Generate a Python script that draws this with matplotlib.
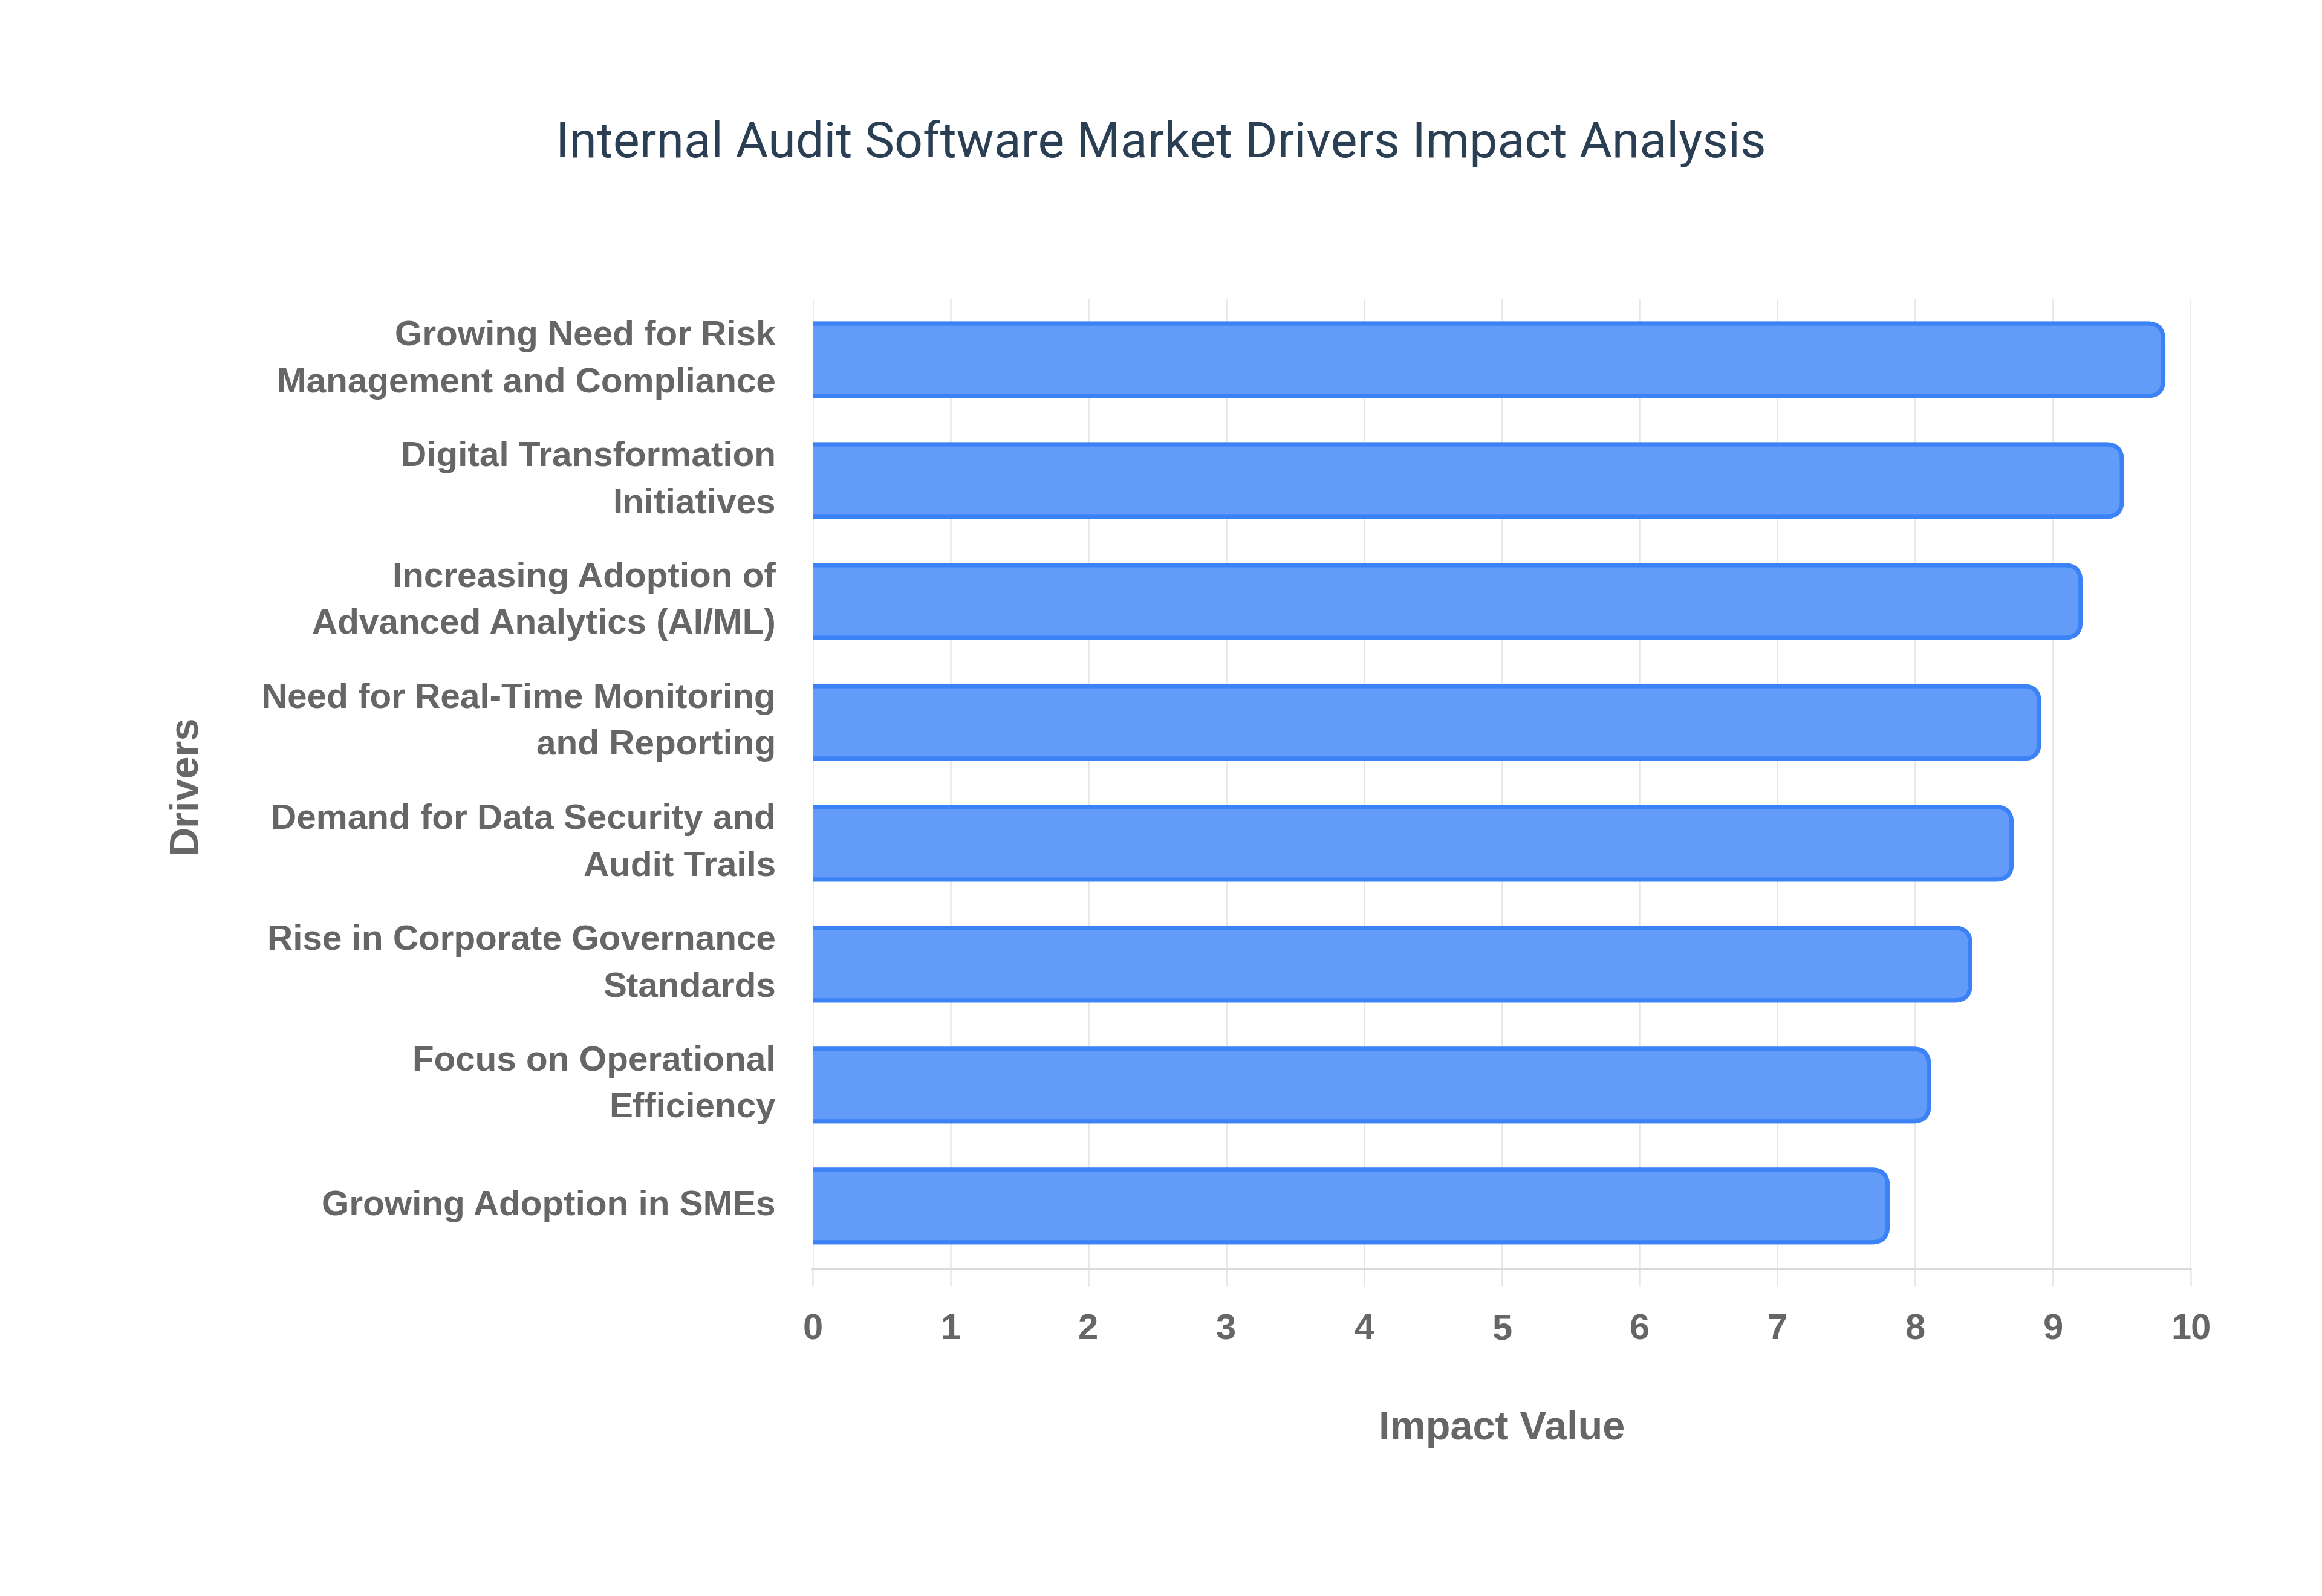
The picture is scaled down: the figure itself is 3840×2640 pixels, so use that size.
import matplotlib
matplotlib.use("Agg")
import matplotlib.pyplot as plt
from matplotlib.patches import FancyBboxPatch

# data (top to bottom)
drivers = [
    "Growing Need for Risk\nManagement and Compliance",
    "Digital Transformation\nInitiatives",
    "Increasing Adoption of\nAdvanced Analytics (AI/ML)",
    "Need for Real-Time Monitoring\nand Reporting",
    "Demand for Data Security and\nAudit Trails",
    "Rise in Corporate Governance\nStandards",
    "Focus on Operational\nEfficiency",
    "Growing Adoption in SMEs",
]
impact = [9.8, 9.5, 9.2, 8.9, 8.7, 8.4, 8.1, 7.8]
xticks = [0, 1, 2, 3, 4, 5, 6, 7, 8, 9, 10]

fill_col = "#629bf8"
edge_col = "#3b82f6"
label_col = "#666666"
grid_col = "#e6e6e6"
lab_font = ["Liberation Sans", "DejaVu Sans"]

fig = plt.figure(figsize=(19.2, 13.2), dpi=200)
fig.patch.set_facecolor("white")
ax = fig.add_axes([0.35, 0.205, 0.5935, 0.6075])

bar_h = 0.6
rx = 0.115          # corner radius in x data units
asp = 1.14          # y/x scale ratio for round corners
for i, v in enumerate(impact):
    # start a bit left of 0 so the left corners get clipped away
    p = FancyBboxPatch((-0.3, i - bar_h / 2), v + 0.3, bar_h,
                       boxstyle=f"round,pad=0,rounding_size={rx}",
                       mutation_aspect=asp,
                       facecolor=fill_col, edgecolor=edge_col,
                       linewidth=2.6, zorder=3, clip_on=True)
    ax.add_patch(p)

ax.set_xlim(0, 10)
ax.set_ylim(len(drivers) - 0.48, -0.5)

ax.set_yticks(range(len(drivers)))
ax.set_yticklabels(drivers, fontsize=21, fontweight="bold", color=label_col,
                   family=lab_font)
for lb in ax.get_yticklabels():
    lb.set_linespacing(1.55)
    lb.set_va("center")
ax.set_xticks(xticks)
ax.set_xticklabels([str(t) for t in xticks], fontsize=21.5, fontweight="bold",
                   color=label_col, family=lab_font)

ax.tick_params(axis="y", length=0, pad=22)
ax.tick_params(axis="x", length=10.5, width=0.9, color=grid_col, pad=16)

ax.grid(axis="x", color=grid_col, linewidth=0.9, zorder=0)
ax.set_axisbelow(True)
for s in ["top", "right", "left"]:
    ax.spines[s].set_visible(False)
ax.spines["bottom"].set_color("#dadada")
ax.spines["bottom"].set_linewidth(1.3)

ax.set_xlabel("Impact Value", fontsize=24, fontweight="bold", color=label_col,
              family=lab_font, labelpad=38)
ax.set_ylabel("Drivers", fontsize=24, fontweight="bold", color=label_col,
              family=lab_font)
ax.yaxis.set_label_coords(-0.442, 0.5)

fig.text(0.5, 0.91, "Internal Audit Software Market Drivers Impact Analysis",
         ha="center", va="center", fontsize=29.7, color="#2a3f54",
         family=["Roboto", "DejaVu Sans"])

fig.savefig("out.png", dpi=200, facecolor=fig.get_facecolor())
